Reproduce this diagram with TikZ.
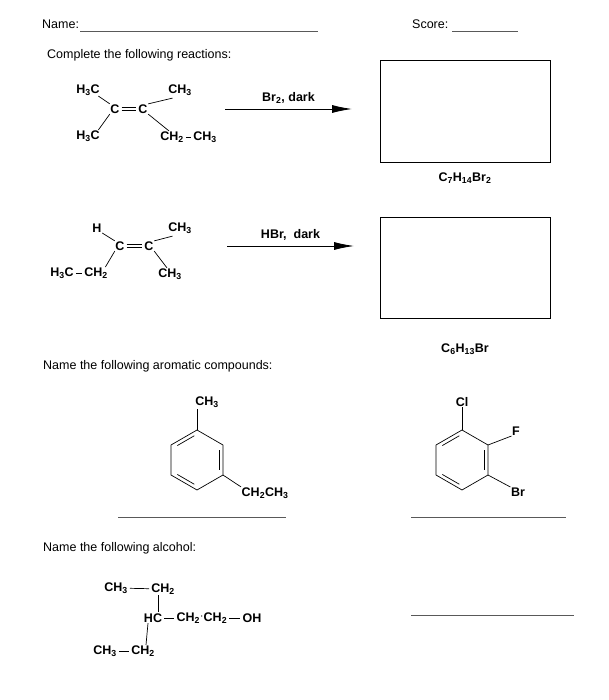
\documentclass[tikz,border=0pt]{standalone}
\usepackage{fontspec}
\setmainfont{Liberation Sans}
\usetikzlibrary{arrows.meta,calc,positioning}
\newcommand{\sub}[1]{\textsubscript{#1}}
\begin{document}
\begin{tikzpicture}[x=1pt,y=-1pt,
  lbl/.style={font=\fontsize{12.5}{14}\selectfont,anchor=west,inner sep=0},
  grp/.style={font=\fontsize{12.5}{14}\selectfont\bfseries,inner sep=0.5pt},
  bond/.style={line width=0.7pt},
  sb/.style={bond,shorten <=1.5pt,shorten >=1.5pt},
  ans/.style={line width=0.5pt,gray!70!black},
  arr/.style={line width=0.9pt,-{Latex[length=20pt,width=8pt]}}]
\useasboundingbox (0,0) rectangle (609,700);
% header
\node[lbl] (name) at (42,24) {Name:};
\draw[ans] (80,31) -- (318,31);
\node[lbl] (score) at (412,24) {Score:};
\draw[ans] (452,31) -- (518,31);
\node[lbl] (t1) at (47,55) {Complete the following reactions:};
% reaction 1
\node[grp] (a1) at (88,90) {H\sub{3}C};
\node[grp] (a2) at (180,90) {CH\sub{3}};
\node[grp] (ca) at (115,109) {C};
\node[grp] (cb) at (143,109) {C};
\node[grp] (a3) at (88,136) {H\sub{3}C};
\node[grp] (a4) at (172,137) {CH\sub{2}};
\node[grp] (a5) at (205,137) {CH\sub{3}};
\draw[bond] ([xshift=-2pt]a1.south east) -- (ca.north west);
\draw[bond] ([xshift=-2pt]a3.north east) -- (ca.south west);
\draw[bond] (cb.north east) -- ([xshift=5pt,yshift=-2pt]a2.south west);
\draw[bond] (cb.south east) -- ([xshift=-3pt]a4.north);
\draw[sb] ([yshift=-1.7pt]ca.east) -- ([yshift=-1.7pt]cb.west);
\draw[sb] ([yshift=1.7pt]ca.east) -- ([yshift=1.7pt]cb.west);
\draw[sb] (a4) -- (a5);
\coordinate (r1s) at (225,109); \coordinate (r1e) at (352,109);
\draw[arr] (r1s) -- (r1e) node[midway,above=5pt,grp] {Br\sub{2}, dark};
\node[draw,line width=0.7pt,minimum width=170pt,minimum height=102pt,inner sep=0] (box1) at (465,111) {};
\node[grp,below=10pt of box1] (f1) {C\sub{7}H\sub{14}Br\sub{2}};
% reaction 2
\node[grp] (b1) at (97,228) {H};
\node[grp] (b2) at (180,228) {CH\sub{3}};
\node[grp] (cc) at (120,246) {C};
\node[grp] (cd) at (149,246) {C};
\node[grp] (b3) at (62,273) {H\sub{3}C};
\node[grp] (b4) at (96,273) {CH\sub{2}};
\node[grp] (b5) at (170,274) {CH\sub{3}};
\draw[bond] (b1.south east) -- (cc.north west);
\draw[bond] ([xshift=-3pt]b4.north east) -- (cc.south west);
\draw[bond] (cd.north east) -- ([xshift=5pt,yshift=-2pt]b2.south west);
\draw[bond] (cd.south east) -- ([xshift=-3pt]b5.north);
\draw[sb] ([yshift=-1.7pt]cc.east) -- ([yshift=-1.7pt]cd.west);
\draw[sb] ([yshift=1.7pt]cc.east) -- ([yshift=1.7pt]cd.west);
\draw[sb] (b3) -- (b4);
\coordinate (r2s) at (227,246); \coordinate (r2e) at (354,246);
\draw[arr] (r2s) -- (r2e) node[midway,above=5pt,grp] {HBr,\ \ dark};
\node[draw,line width=0.7pt,minimum width=170pt,minimum height=101pt,inner sep=0] (box2) at (465,267.5) {};
\node[grp] (f2) at (465,349) {C\sub{6}H\sub{13}Br};
% aromatics
\node[lbl] (t2) at (43,366) {Name the following aromatic compounds:};
\foreach \cx/\nm in {197/p,462/q}{
  \foreach \i/\ang in {1/90,2/30,3/-30,4/-90,5/-150,6/150}
    \coordinate (\nm\i) at ($(\cx,460)+(\ang:30 and -30)$);
  \draw[bond] (\nm1)--(\nm2)--(\nm3)--(\nm4)--(\nm5)--(\nm6)--cycle;
  \coordinate (\nm c) at (\cx,460);
  \draw[bond] ($(\nm1)!0.12!(\nm6)!0.14!(\nm c)$) -- ($(\nm6)!0.12!(\nm1)!0.14!(\nm c)$);
  \draw[bond] ($(\nm2)!0.12!(\nm3)!0.14!(\nm c)$) -- ($(\nm3)!0.12!(\nm2)!0.14!(\nm c)$);
  \draw[bond] ($(\nm4)!0.12!(\nm5)!0.14!(\nm c)$) -- ($(\nm5)!0.12!(\nm4)!0.14!(\nm c)$);
}
\node[grp] (m1) at (207,402) {CH\sub{3}};
\draw[bond] (p1) -- (197,409);
\node[grp,anchor=west] (m2) at (241,493) {CH\sub{2}CH\sub{3}};
\draw[bond] (p3) -- (m2.north west);
\node[grp] (cl) at (462,402) {Cl};
\draw[bond] (q1) -- (cl.south);
\node[grp] (fl) at (516,431) {F};
\draw[bond] (q2) -- (fl.south west);
\node[grp] (br) at (518,492) {Br};
\draw[bond] (q3) -- (br.north west);
\draw[ans] (118,517) -- (286,517);
\draw[ans] (411,517) -- (566,517);
% alcohol
\node[lbl] (t3) at (43,548) {Name the following alcohol:};
\node[grp] (e1) at (116,588) {CH\sub{3}};
\node[grp] (e2) at (163,589) {CH\sub{2}};
\node[grp] (e3) at (153,618) {HC};
\node[grp] (e4) at (190,618) {CH\sub{2}\raisebox{2pt}{$\cdot$}};
\node[grp,anchor=west] (e5) at (203,618) {CH\sub{2}};
\node[grp] (e6) at (252,618) {OH};
\node[grp] (e7) at (105,651) {CH\sub{3}};
\node[grp] (e8) at (143,651) {CH\sub{2}};
\draw[sb] (e1) -- (e2);
\draw[bond] ([xshift=-5pt]e2.south) -- ([xshift=-5pt,yshift=1pt]e2.south |- e3.north);
\draw[sb] (e3) -- (e4);
\draw[sb] (e5) -- (e6);
\draw[bond] ([xshift=-5pt]e3.south) -- ([xshift=3pt]e8.north);
\draw[sb] (e7) -- (e8);
\draw[ans] (411,615) -- (574,615);
\end{tikzpicture}
\end{document}
